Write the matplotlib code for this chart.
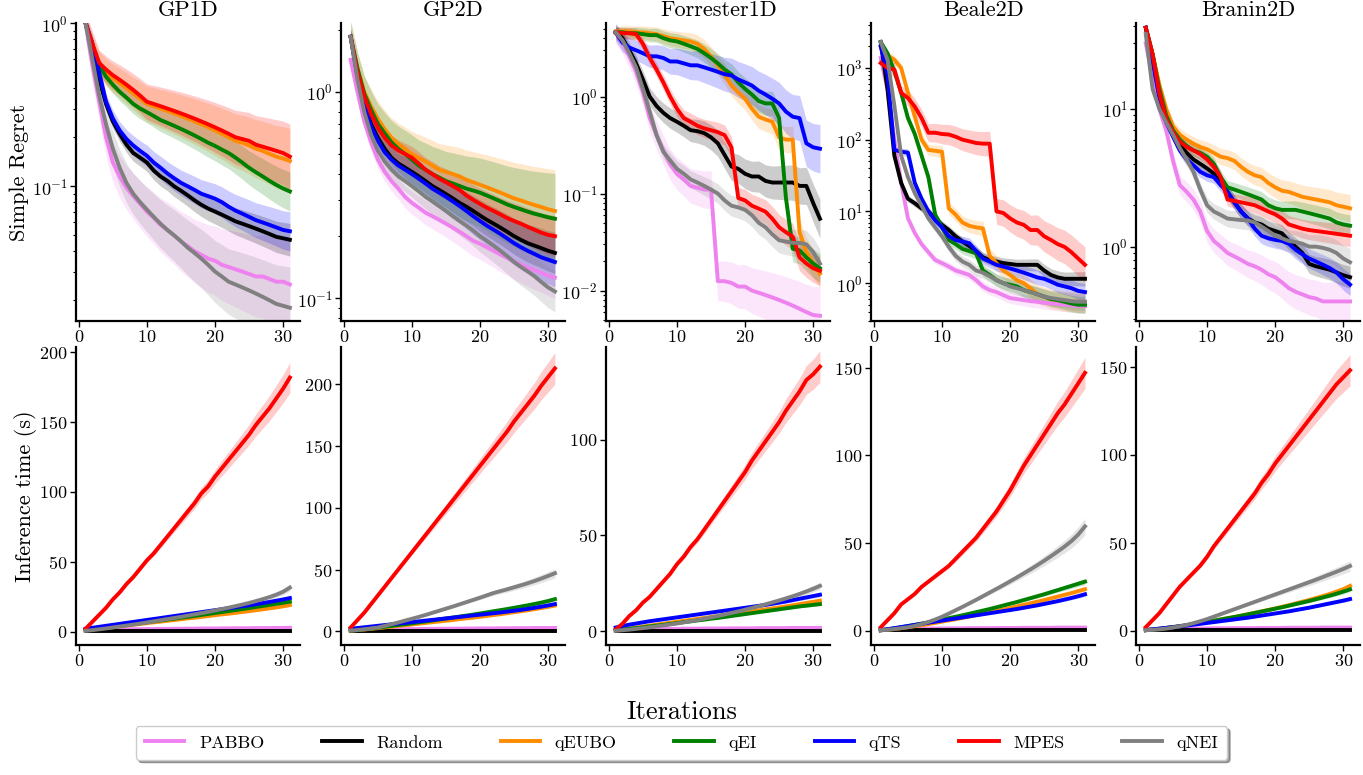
import numpy as np
import matplotlib
matplotlib.use("Agg")
import matplotlib.pyplot as plt
from matplotlib.ticker import MultipleLocator

plt.rcParams['font.family'] = 'cmr10'
plt.rcParams['mathtext.fontset'] = 'cm'
plt.rcParams['axes.formatter.use_mathtext'] = True

methods = ["PABBO", "Random", "qEUBO", "qEI", "qTS", "MPES", "qNEI"]
colors = ["violet", "black", "darkorange", "green", "blue", "red", "gray"]
tasks = ["GP1D", "GP2D", "Forrester1D", "Beale2D", "Branin2D"]
iters = list(range(1, 32))

# ---------- simple regret (rows follow `methods`) ----------
regret_gp1d = [
    [1.0, 0.55, 0.33, 0.2, 0.14, 0.115, 0.098, 0.087, 0.078, 0.07, 0.064, 0.058, 0.054, 0.05, 0.046, 0.043, 0.04, 0.038, 0.036, 0.035, 0.033, 0.032, 0.031, 0.03, 0.029, 0.028, 0.028, 0.027, 0.026, 0.026, 0.025],
    [1.0, 0.7, 0.45, 0.32, 0.25, 0.21, 0.18, 0.16, 0.15, 0.14, 0.125, 0.115, 0.108, 0.1, 0.094, 0.088, 0.082, 0.077, 0.073, 0.07, 0.067, 0.064, 0.061, 0.059, 0.057, 0.055, 0.053, 0.051, 0.049, 0.048, 0.047],
    [1.0, 0.72, 0.56, 0.5, 0.46, 0.43, 0.4, 0.37, 0.345, 0.32, 0.31, 0.3, 0.29, 0.28, 0.27, 0.26, 0.25, 0.24, 0.23, 0.22, 0.21, 0.2, 0.19, 0.185, 0.178, 0.17, 0.165, 0.158, 0.152, 0.148, 0.143],
    [1.0, 0.7, 0.55, 0.47, 0.42, 0.38, 0.35, 0.32, 0.3, 0.285, 0.27, 0.255, 0.245, 0.235, 0.225, 0.215, 0.205, 0.195, 0.185, 0.177, 0.168, 0.16, 0.15, 0.14, 0.13, 0.122, 0.115, 0.108, 0.102, 0.097, 0.093],
    [1.0, 0.75, 0.5, 0.33, 0.26, 0.22, 0.195, 0.178, 0.165, 0.154, 0.14, 0.13, 0.12, 0.112, 0.105, 0.1, 0.095, 0.09, 0.087, 0.084, 0.08, 0.075, 0.071, 0.068, 0.065, 0.062, 0.06, 0.058, 0.056, 0.054, 0.053],
    [1.0, 0.75, 0.57, 0.52, 0.48, 0.45, 0.42, 0.39, 0.36, 0.33, 0.32, 0.31, 0.3, 0.29, 0.28, 0.27, 0.26, 0.25, 0.24, 0.23, 0.22, 0.21, 0.2, 0.195, 0.19, 0.18, 0.175, 0.17, 0.165, 0.16, 0.152],
    [1.0, 0.6, 0.36, 0.24, 0.17, 0.13, 0.105, 0.09, 0.08, 0.072, 0.065, 0.059, 0.054, 0.05, 0.046, 0.042, 0.039, 0.036, 0.033, 0.03, 0.028, 0.026, 0.025, 0.024, 0.023, 0.022, 0.021, 0.02, 0.019, 0.0185, 0.018],
]
regret_gp2d = [
    [1.43, 1.0, 0.72, 0.57, 0.47, 0.41, 0.37, 0.34, 0.31, 0.29, 0.275, 0.26, 0.25, 0.24, 0.23, 0.22, 0.21, 0.2, 0.19, 0.184, 0.177, 0.17, 0.163, 0.157, 0.151, 0.146, 0.141, 0.137, 0.133, 0.129, 0.126],
    [1.85, 1.2, 0.88, 0.7, 0.6, 0.53, 0.48, 0.45, 0.43, 0.41, 0.39, 0.37, 0.35, 0.335, 0.32, 0.305, 0.29, 0.278, 0.265, 0.252, 0.24, 0.23, 0.22, 0.21, 0.2, 0.192, 0.185, 0.18, 0.175, 0.17, 0.166],
    [1.85, 1.3, 1.0, 0.85, 0.74, 0.66, 0.6, 0.56, 0.53, 0.5, 0.48, 0.46, 0.44, 0.42, 0.41, 0.4, 0.39, 0.375, 0.365, 0.355, 0.345, 0.335, 0.325, 0.315, 0.305, 0.298, 0.29, 0.283, 0.277, 0.27, 0.265],
    [1.85, 1.3, 0.98, 0.82, 0.7, 0.63, 0.57, 0.53, 0.5, 0.47, 0.44, 0.42, 0.4, 0.385, 0.37, 0.36, 0.35, 0.34, 0.333, 0.325, 0.315, 0.305, 0.295, 0.285, 0.277, 0.27, 0.263, 0.257, 0.252, 0.247, 0.243],
    [1.85, 1.2, 0.86, 0.68, 0.58, 0.51, 0.47, 0.44, 0.42, 0.4, 0.38, 0.36, 0.34, 0.325, 0.31, 0.295, 0.28, 0.265, 0.25, 0.237, 0.225, 0.215, 0.205, 0.195, 0.185, 0.177, 0.17, 0.164, 0.158, 0.154, 0.15],
    [1.85, 1.25, 0.95, 0.78, 0.67, 0.6, 0.55, 0.52, 0.5, 0.48, 0.45, 0.42, 0.4, 0.38, 0.365, 0.35, 0.335, 0.315, 0.3, 0.287, 0.275, 0.265, 0.255, 0.245, 0.237, 0.23, 0.222, 0.215, 0.208, 0.203, 0.2],
    [1.85, 1.15, 0.8, 0.62, 0.52, 0.46, 0.42, 0.39, 0.37, 0.35, 0.33, 0.31, 0.295, 0.28, 0.265, 0.25, 0.237, 0.225, 0.213, 0.2, 0.19, 0.18, 0.17, 0.16, 0.15, 0.142, 0.135, 0.128, 0.12, 0.113, 0.108],
]
regret_forrester = [
    [4.5, 3.6, 2.6, 1.8, 1.1, 0.6, 0.4, 0.28, 0.2, 0.16, 0.14, 0.12, 0.115, 0.11, 0.11, 0.0125, 0.0125, 0.012, 0.011, 0.011, 0.01, 0.0095, 0.009, 0.0085, 0.008, 0.0075, 0.007, 0.0065, 0.006, 0.0056, 0.0055],
    [4.6, 4.0, 3.0, 2.2, 1.5, 1.0, 0.8, 0.68, 0.6, 0.55, 0.5, 0.45, 0.44, 0.42, 0.38, 0.33, 0.25, 0.19, 0.18, 0.16, 0.15, 0.15, 0.135, 0.13, 0.13, 0.13, 0.13, 0.12, 0.12, 0.08, 0.055],
    [4.7, 4.7, 4.7, 4.6, 4.6, 4.5, 4.4, 4.2, 4.0, 3.9, 3.8, 3.7, 3.5, 3.1, 2.6, 2.1, 1.7, 1.3, 1.1, 0.95, 0.75, 0.62, 0.58, 0.55, 0.38, 0.36, 0.36, 0.04, 0.025, 0.019, 0.015],
    [4.6, 4.6, 4.5, 4.5, 4.4, 4.3, 4.3, 4.0, 3.8, 3.7, 3.5, 3.3, 3.1, 2.8, 2.5, 2.2, 1.9, 1.7, 1.4, 1.2, 1.05, 0.9, 0.85, 0.85, 0.6, 0.09, 0.027, 0.026, 0.022, 0.019, 0.017],
    [4.6, 3.6, 3.2, 3.0, 2.8, 2.6, 2.6, 2.5, 2.3, 2.3, 2.2, 2.1, 2.1, 2.0, 1.9, 1.8, 1.7, 1.65, 1.5, 1.4, 1.3, 1.15, 1.05, 0.95, 0.85, 0.7, 0.62, 0.6, 0.33, 0.3, 0.29],
    [4.6, 4.5, 4.5, 4.4, 3.5, 2.5, 1.9, 1.4, 1.0, 0.75, 0.6, 0.55, 0.5, 0.47, 0.45, 0.43, 0.4, 0.3, 0.09, 0.085, 0.075, 0.07, 0.065, 0.055, 0.045, 0.04, 0.036, 0.022, 0.019, 0.017, 0.016],
    [4.6, 3.8, 2.8, 2.0, 1.2, 0.7, 0.4, 0.27, 0.22, 0.18, 0.16, 0.14, 0.13, 0.12, 0.11, 0.1, 0.085, 0.075, 0.072, 0.068, 0.06, 0.05, 0.045, 0.038, 0.033, 0.032, 0.031, 0.031, 0.03, 0.025, 0.019],
]
regret_beale = [
    [1380, 500, 100, 25, 8, 5, 3.5, 2.7, 2.1, 1.9, 1.7, 1.5, 1.4, 1.3, 1.1, 0.9, 0.8, 0.75, 0.68, 0.62, 0.6, 0.58, 0.56, 0.55, 0.53, 0.52, 0.51, 0.5, 0.49, 0.48, 0.48],
    [2300, 500, 60, 25, 15, 13, 11, 10, 8, 6.5, 5.5, 4.5, 3.8, 3.3, 2.8, 2.3, 2.1, 2.0, 1.9, 1.85, 1.8, 1.8, 1.8, 1.8, 1.5, 1.3, 1.2, 1.15, 1.15, 1.15, 1.15],
    [2000, 1500, 1300, 1000, 450, 210, 100, 72, 70, 68, 11, 9, 7, 6.3, 6, 5.8, 2.4, 1.9, 1.5, 1.3, 1.1, 1.0, 0.85, 0.7, 0.65, 0.6, 0.58, 0.56, 0.55, 0.55, 0.55],
    [2300, 1600, 900, 450, 200, 120, 60, 30, 9, 6, 4, 3.5, 3, 2.8, 2.6, 1.5, 1.3, 1.1, 1.0, 0.95, 0.9, 0.8, 0.75, 0.7, 0.65, 0.6, 0.58, 0.55, 0.52, 0.5, 0.5],
    [2000, 800, 72, 68, 66, 25, 15, 10, 7.5, 6, 4.5, 4, 3.8, 3.6, 2.8, 2.2, 2.0, 1.8, 1.7, 1.6, 1.5, 1.4, 1.3, 1.2, 1.15, 1.05, 0.95, 0.9, 0.85, 0.78, 0.75],
    [1170, 1000, 950, 450, 380, 290, 200, 125, 125, 120, 118, 110, 100, 95, 90, 88, 88, 10, 9.5, 8, 7, 6.5, 5.5, 5.5, 4.5, 4, 3.5, 3.2, 2.7, 2.2, 1.8],
    [2300, 1300, 300, 60, 30, 18, 12, 8, 6, 4.5, 3.2, 2.4, 2.0, 1.8, 1.5, 1.4, 1.25, 1.1, 1.0, 0.9, 0.85, 0.8, 0.75, 0.7, 0.65, 0.62, 0.6, 0.58, 0.56, 0.55, 0.55],
]
regret_branin = [
    [30, 17, 10, 7, 4.2, 2.8, 2.5, 2.2, 1.8, 1.3, 1.1, 1.0, 0.9, 0.85, 0.8, 0.75, 0.72, 0.68, 0.63, 0.6, 0.55, 0.5, 0.47, 0.45, 0.43, 0.42, 0.4, 0.4, 0.4, 0.4, 0.4],
    [39, 25, 14, 9, 6.8, 5.5, 4.8, 4.3, 4.0, 3.7, 3.4, 3.0, 2.5, 2.1, 1.8, 1.6, 1.5, 1.45, 1.35, 1.3, 1.25, 1.1, 1.0, 0.9, 0.75, 0.72, 0.7, 0.68, 0.65, 0.62, 0.6],
    [39, 25, 15, 10, 7.5, 6.5, 6, 5.6, 5.3, 5.1, 4.8, 4.5, 4.4, 4.2, 3.8, 3.5, 3.3, 3.2, 2.9, 2.7, 2.55, 2.5, 2.4, 2.3, 2.25, 2.2, 2.15, 2.1, 2.0, 1.95, 1.9],
    [39, 25, 14, 9, 7, 6, 5.4, 5, 4.8, 4.5, 4, 3.2, 2.7, 2.6, 2.5, 2.4, 2.3, 2.2, 2.0, 1.9, 1.85, 1.85, 1.85, 1.8, 1.75, 1.7, 1.65, 1.6, 1.5, 1.45, 1.42],
    [39, 22, 12, 8, 6.3, 5, 4.3, 3.9, 3.5, 3.3, 3.2, 2.8, 2.5, 2.1, 1.8, 1.6, 1.35, 1.2, 1.15, 1.12, 1.1, 1.05, 0.95, 0.88, 0.82, 0.78, 0.74, 0.7, 0.65, 0.58, 0.53],
    [39, 25, 13, 8.5, 6.8, 5.8, 5.3, 5, 4.7, 4.3, 3.8, 3.2, 2.2, 2.15, 2.1, 2.05, 2.0, 1.9, 1.8, 1.72, 1.6, 1.45, 1.4, 1.35, 1.32, 1.3, 1.28, 1.26, 1.24, 1.22, 1.2],
    [35, 14, 10, 8, 6.5, 5.2, 4.3, 3.5, 2.6, 2.0, 1.8, 1.7, 1.6, 1.58, 1.56, 1.55, 1.5, 1.4, 1.3, 1.2, 1.15, 1.1, 1.08, 1.05, 1.0, 1.0, 0.98, 0.95, 0.9, 0.82, 0.77],
]
# half width of the shaded band, in decades, at the last iteration
regret_band = [
    [0.28, 0.1, 0.2, 0.12, 0.12, 0.2, 0.25],
    [0.1, 0.1, 0.2, 0.22, 0.12, 0.1, 0.1],
    [0.3, 0.2, 0.15, 0.15, 0.25, 0.15, 0.15],
    [0.1, 0.1, 0.15, 0.12, 0.12, 0.25, 0.12],
    [0.15, 0.08, 0.1, 0.08, 0.08, 0.08, 0.1],
]

# ---------- inference time in seconds ----------
time_gp1d = [
    [1.0, 1.2, 1.3, 1.4, 1.5, 1.5, 1.6, 1.7, 1.7, 1.8, 1.8, 1.9, 1.9, 2.0, 2.0, 2.1, 2.1, 2.2, 2.2, 2.2, 2.3, 2.3, 2.4, 2.4, 2.4, 2.5, 2.5, 2.5, 2.6, 2.6, 2.7],
    [0.2, 0.2, 0.2, 0.2, 0.2, 0.2, 0.2, 0.2, 0.2, 0.2, 0.2, 0.2, 0.2, 0.2, 0.2, 0.2, 0.2, 0.2, 0.2, 0.2, 0.2, 0.2, 0.2, 0.2, 0.2, 0.2, 0.2, 0.2, 0.2, 0.2, 0.2],
    [1.0, 1.5, 2.1, 2.7, 3.2, 3.8, 4.3, 4.9, 5.4, 6.0, 6.6, 7.1, 7.7, 8.2, 8.8, 9.4, 9.9, 10.5, 11.1, 11.7, 12.3, 12.8, 13.4, 14.0, 14.6, 15.3, 15.9, 16.6, 17.3, 18.1, 19.0],
    [1.0, 1.6, 2.2, 2.9, 3.5, 4.1, 4.8, 5.4, 6.0, 6.7, 7.3, 7.9, 8.6, 9.2, 9.9, 10.5, 11.2, 11.9, 12.6, 13.3, 14.0, 14.7, 15.4, 16.1, 16.8, 17.6, 18.3, 19.1, 19.9, 20.6, 21.4],
    [2.0, 2.7, 3.4, 4.1, 4.8, 5.5, 6.2, 6.9, 7.6, 8.3, 9.0, 9.7, 10.4, 11.1, 11.8, 12.5, 13.2, 13.9, 14.6, 15.3, 16.0, 16.7, 17.4, 18.1, 18.8, 19.6, 20.4, 21.2, 22.1, 23.0, 24.0],
    [2, 7, 12, 17, 23, 28, 34, 39, 45, 51, 56, 62, 68, 74, 80, 86, 92, 99, 104, 111, 117, 123, 129, 135, 141, 148, 154, 160, 167, 174, 182],
    [0.5, 1.0, 1.6, 2.2, 2.9, 3.6, 4.3, 5.0, 5.7, 6.5, 7.3, 8.1, 8.9, 9.7, 10.5, 11.4, 12.3, 13.2, 14.1, 15.1, 16.1, 17.1, 18.2, 19.3, 20.5, 21.8, 23.2, 24.7, 26.4, 28.5, 31.5],
]
time_gp2d = [
    [1.0, 1.2, 1.3, 1.4, 1.5, 1.6, 1.6, 1.7, 1.7, 1.8, 1.8, 1.9, 1.9, 2.0, 2.0, 2.1, 2.1, 2.2, 2.2, 2.3, 2.3, 2.3, 2.4, 2.4, 2.5, 2.5, 2.5, 2.6, 2.6, 2.6, 2.7],
    [0.3, 0.3, 0.3, 0.3, 0.3, 0.3, 0.3, 0.3, 0.3, 0.3, 0.3, 0.3, 0.3, 0.3, 0.3, 0.3, 0.3, 0.3, 0.3, 0.3, 0.3, 0.3, 0.3, 0.3, 0.3, 0.3, 0.3, 0.3, 0.3, 0.3, 0.3],
    [0.5, 0.9, 1.4, 1.9, 2.5, 3.1, 3.7, 4.3, 4.9, 5.5, 6.1, 6.7, 7.3, 7.9, 8.5, 9.1, 9.8, 10.4, 11.0, 11.7, 12.4, 13.1, 13.8, 14.6, 15.4, 16.2, 17.0, 17.9, 18.8, 19.8, 20.8],
    [0.5, 1.0, 1.6, 2.2, 2.9, 3.6, 4.3, 5.0, 5.7, 6.4, 7.2, 7.9, 8.7, 9.5, 10.3, 11.1, 11.9, 12.7, 13.5, 14.4, 15.3, 16.2, 17.1, 18.0, 19.0, 20.0, 21.0, 22.1, 23.2, 24.5, 26.0],
    [2.0, 2.6, 3.2, 3.8, 4.4, 5.0, 5.6, 6.2, 6.8, 7.4, 8.0, 8.6, 9.2, 9.8, 10.4, 11.0, 11.6, 12.2, 12.8, 13.4, 14.0, 14.6, 15.2, 15.9, 16.6, 17.3, 18.1, 19.0, 19.9, 20.9, 22.0],
    [3, 9, 15, 22, 29, 36, 43, 50, 57, 64, 71, 78, 85, 92, 99, 106, 113, 120, 127, 134, 141, 148, 155, 162, 170, 177, 184, 191, 199, 206, 213],
    [0.5, 1.0, 1.6, 2.3, 3.0, 4.3, 5.7, 7.1, 8.6, 10.1, 11.6, 13.2, 14.9, 16.6, 18.3, 20.0, 21.8, 23.6, 25.4, 27.2, 29.1, 31.0, 32.5, 34.0, 35.6, 37.2, 38.9, 40.7, 42.7, 44.8, 47.0],
]
time_forrester = [
    [0.8, 0.9, 1.0, 1.1, 1.1, 1.2, 1.2, 1.3, 1.3, 1.3, 1.4, 1.4, 1.4, 1.5, 1.5, 1.5, 1.5, 1.6, 1.6, 1.6, 1.6, 1.7, 1.7, 1.7, 1.7, 1.7, 1.8, 1.8, 1.8, 1.8, 1.8],
    [0.2, 0.2, 0.2, 0.2, 0.2, 0.2, 0.2, 0.2, 0.2, 0.2, 0.2, 0.2, 0.2, 0.2, 0.2, 0.2, 0.2, 0.2, 0.2, 0.2, 0.2, 0.2, 0.2, 0.2, 0.2, 0.2, 0.2, 0.2, 0.2, 0.2, 0.2],
    [0.5, 1.0, 1.5, 2.0, 2.5, 3.0, 3.5, 4.0, 4.5, 5.0, 5.5, 6.0, 6.5, 7.0, 7.5, 8.0, 8.5, 9.0, 9.5, 10.0, 10.5, 11.0, 11.5, 12.0, 12.5, 13.0, 13.6, 14.2, 14.8, 15.4, 16.0],
    [0.5, 0.9, 1.3, 1.7, 2.1, 2.6, 3.0, 3.4, 3.9, 4.3, 4.8, 5.2, 5.7, 6.1, 6.6, 7.0, 7.5, 8.0, 8.5, 9.0, 9.5, 10.0, 10.5, 11.0, 11.5, 12.0, 12.5, 13.0, 13.4, 13.8, 14.2],
    [2.0, 2.8, 3.5, 4.1, 4.7, 5.3, 5.8, 6.3, 6.8, 7.3, 7.8, 8.3, 8.8, 9.3, 9.8, 10.3, 10.8, 11.3, 11.8, 12.3, 12.8, 13.3, 13.8, 14.4, 15.0, 15.6, 16.3, 17.0, 17.7, 18.4, 19.1],
    [1, 4, 8, 11, 15, 18, 22, 26, 30, 35, 39, 44, 48, 53, 58, 63, 68, 73, 78, 83, 89, 94, 99, 104, 109, 115, 120, 125, 131, 134, 138],
    [0.3, 0.6, 0.9, 1.3, 1.7, 2.1, 2.6, 3.1, 3.6, 4.1, 4.7, 5.3, 5.9, 6.6, 7.3, 8.0, 8.8, 9.6, 10.4, 11.3, 12.2, 13.1, 14.1, 15.1, 16.1, 17.2, 18.3, 19.5, 20.8, 22.2, 23.7],
]
time_beale = [
    [0.8, 0.9, 1.0, 1.1, 1.1, 1.2, 1.2, 1.3, 1.3, 1.3, 1.4, 1.4, 1.4, 1.5, 1.5, 1.5, 1.5, 1.6, 1.6, 1.6, 1.6, 1.7, 1.7, 1.7, 1.7, 1.7, 1.8, 1.8, 1.8, 1.8, 1.8],
    [0.2, 0.2, 0.2, 0.2, 0.2, 0.2, 0.2, 0.2, 0.2, 0.2, 0.2, 0.2, 0.2, 0.2, 0.2, 0.2, 0.2, 0.2, 0.2, 0.2, 0.2, 0.2, 0.2, 0.2, 0.2, 0.2, 0.2, 0.2, 0.2, 0.2, 0.2],
    [0.2, 0.6, 1.0, 1.5, 2.0, 2.6, 3.2, 3.8, 4.5, 5.2, 5.9, 6.6, 7.3, 8.1, 8.9, 9.7, 10.5, 11.3, 12.1, 13.0, 13.9, 14.8, 15.7, 16.6, 17.5, 18.5, 19.5, 20.5, 21.5, 22.6, 23.7],
    [0.3, 0.8, 1.4, 2.0, 2.7, 3.4, 4.1, 4.8, 5.6, 6.4, 7.2, 8.0, 8.8, 9.7, 10.6, 11.5, 12.4, 13.4, 14.4, 15.4, 16.4, 17.5, 18.6, 19.7, 20.8, 22.0, 23.2, 24.4, 25.6, 26.8, 28.0],
    [0.3, 0.9, 1.5, 2.1, 2.7, 3.3, 3.9, 4.6, 5.2, 5.8, 6.4, 7.0, 7.6, 8.2, 8.8, 9.4, 10.0, 10.6, 11.2, 11.8, 12.4, 13.1, 13.8, 14.5, 15.3, 16.1, 16.9, 17.8, 18.7, 19.7, 20.8],
    [2, 6, 10, 15, 18, 21, 25, 28, 31, 34, 37, 41, 45, 49, 53, 58, 63, 68, 74, 80, 87, 94, 100, 106, 112, 118, 124, 129, 135, 141, 147],
    [0.3, 0.6, 1.0, 1.5, 2.0, 2.8, 3.8, 5.0, 6.4, 8.0, 9.8, 11.7, 13.6, 15.6, 17.6, 19.7, 21.8, 23.9, 26.0, 28.2, 30.4, 32.7, 35.0, 37.4, 39.9, 42.5, 45.2, 48.0, 51.1, 54.8, 59.5],
]
time_branin = [
    [0.8, 0.9, 1.0, 1.1, 1.1, 1.2, 1.2, 1.3, 1.3, 1.3, 1.4, 1.4, 1.4, 1.5, 1.5, 1.5, 1.5, 1.6, 1.6, 1.6, 1.6, 1.7, 1.7, 1.7, 1.7, 1.7, 1.8, 1.8, 1.8, 1.8, 1.8],
    [0.2, 0.2, 0.2, 0.2, 0.2, 0.2, 0.2, 0.2, 0.2, 0.2, 0.2, 0.2, 0.2, 0.2, 0.2, 0.2, 0.2, 0.2, 0.2, 0.2, 0.2, 0.2, 0.2, 0.2, 0.2, 0.2, 0.2, 0.2, 0.2, 0.2, 0.2],
    [0.3, 0.7, 1.1, 1.6, 2.1, 2.6, 3.2, 3.8, 4.4, 5.0, 5.7, 6.4, 7.1, 7.8, 8.6, 9.4, 10.2, 11.0, 11.8, 12.7, 13.6, 14.5, 15.5, 16.5, 17.5, 18.6, 19.7, 20.9, 22.2, 23.6, 25.5],
    [0.3, 0.7, 1.1, 1.6, 2.1, 2.6, 3.2, 3.8, 4.4, 5.0, 5.7, 6.4, 7.1, 7.8, 8.5, 9.3, 10.1, 10.9, 11.7, 12.5, 13.3, 14.2, 15.1, 16.0, 16.9, 17.9, 18.9, 19.9, 21.0, 22.2, 23.5],
    [0.3, 0.8, 1.2, 1.6, 2.0, 2.5, 2.9, 3.4, 3.9, 4.4, 4.9, 5.4, 5.9, 6.4, 6.9, 7.4, 8.0, 8.6, 9.2, 9.8, 10.4, 11.0, 11.7, 12.4, 13.1, 13.9, 14.7, 15.5, 16.3, 17.1, 18.0],
    [2, 6, 10, 15, 20, 25, 29, 33, 37, 42, 48, 53, 58, 63, 68, 73, 78, 84, 89, 95, 100, 105, 110, 115, 120, 125, 130, 135, 140, 144, 148],
    [0.3, 0.5, 0.8, 1.2, 1.8, 2.5, 3.3, 4.3, 5.4, 6.6, 8.0, 9.4, 10.8, 12.2, 13.6, 15.0, 16.4, 17.8, 19.2, 20.6, 22.0, 23.4, 24.8, 26.2, 27.6, 29.0, 30.5, 32.0, 33.5, 35.1, 36.8],
]
# relative half width of the shaded band at the last iteration
time_band = [0.15, 0.1, 0.06, 0.06, 0.06, 0.06, 0.08]

regret_all = [regret_gp1d, regret_gp2d, regret_forrester, regret_beale, regret_branin]
time_all = [time_gp1d, time_gp2d, time_forrester, time_beale, time_branin]
regret_ylims = [(0.015, 1.0), (0.078, 2.15), (0.0049, 5.7), (0.3, 4200), (0.29, 42)]
time_ylims = [(-9.5, 203.6), (-11, 230), (-7, 148), (-8, 161.5), (-8, 161)]

fig = plt.figure(figsize=(13.63, 7.75), dpi=100)
axes = fig.subplots(2, 5, gridspec_kw=dict(left=0.0558, right=0.998, top=0.970,
                                           bottom=0.168, wspace=0.183, hspace=0.09))

x = np.array(iters)
ramp = np.linspace(0.35, 1.0, len(iters))

for col in range(5):
    ax = axes[0, col]
    for i, m in enumerate(methods):
        y = np.array(regret_all[col][i], dtype=float)
        hw = regret_band[col][i] * ramp
        ax.fill_between(x, y / 10 ** hw, y * 10 ** hw, color=colors[i], alpha=0.2, lw=0)
        ax.plot(x, y, color=colors[i], lw=2.8, label=m)
    ax.set_yscale('log')
    ax.set_ylim(*regret_ylims[col])
    ax.set_title(tasks[col], fontsize=16, pad=5)

    ax = axes[1, col]
    for i, m in enumerate(methods):
        y = np.array(time_all[col][i], dtype=float)
        hw = time_band[i] * ramp * y
        ax.fill_between(x, y - hw, y + hw, color=colors[i], alpha=0.2, lw=0)
        ax.plot(x, y, color=colors[i], lw=2.8)
    ax.yaxis.set_major_locator(MultipleLocator(50))
    ax.set_ylim(*time_ylims[col])

for ax in axes.flat:
    ax.xaxis.set_major_locator(MultipleLocator(10))
    ax.set_xlim(-0.4, 32.5)
    ax.spines['top'].set_visible(False)
    ax.spines['right'].set_visible(False)
    ax.spines['left'].set_linewidth(1.6)
    ax.spines['bottom'].set_linewidth(1.6)
    ax.tick_params(labelsize=13, length=4, width=1, pad=2)
    ax.tick_params(which='minor', length=2.5, width=0.8)

axes[0, 0].set_ylabel('Simple Regret', fontsize=16, labelpad=2)
axes[1, 0].set_ylabel('Inference time (s)', fontsize=16, labelpad=2)

fig.text(0.5, 1 - 712 / 775, 'Iterations', ha='center', va='center', fontsize=19)

handles, labels = axes[0, 0].get_legend_handles_labels()
fig.legend(handles, labels, loc='lower center', bbox_to_anchor=(0.5, 0.008), ncol=7,
           fontsize=13, fancybox=True, shadow=True, columnspacing=3.2,
           handlelength=2.2, handletextpad=0.8, borderpad=0.5, framealpha=1)

fig.savefig('out.png', dpi=100)
